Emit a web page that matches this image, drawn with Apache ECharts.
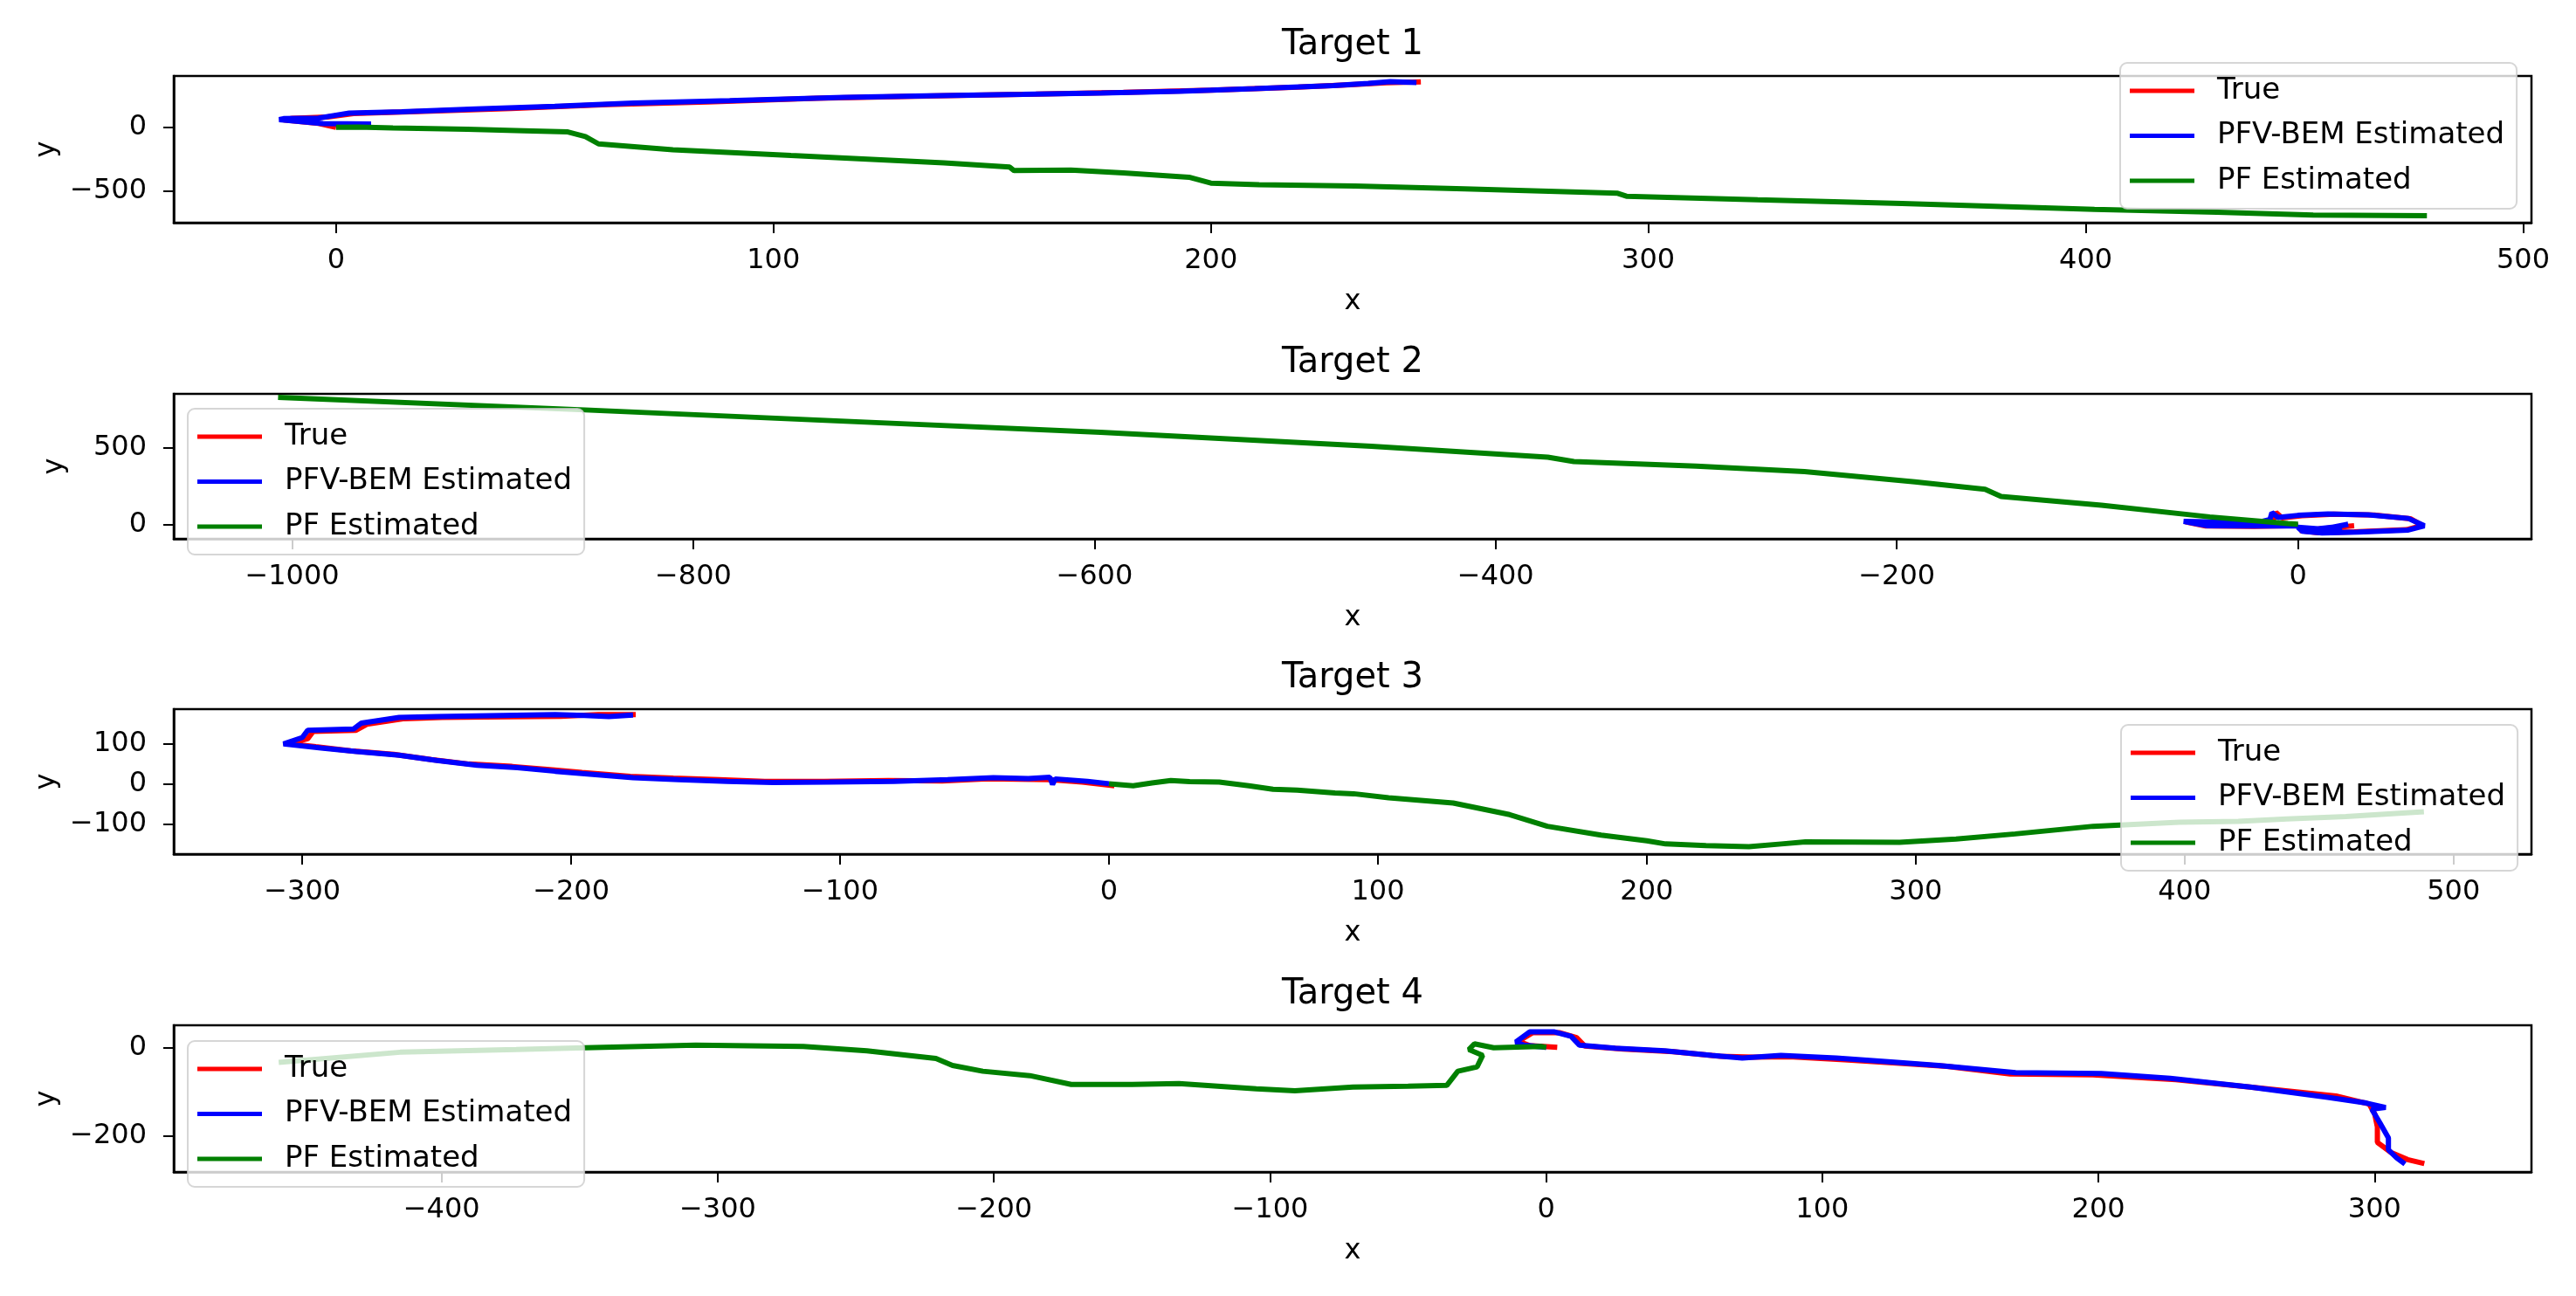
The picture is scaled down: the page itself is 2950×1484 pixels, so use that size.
<!DOCTYPE html>
<html>
<head>
<meta charset="utf-8">
<script src="https://cdn.jsdelivr.net/npm/echarts@6/dist/echarts.min.js"></script>
<style>html,body{margin:0;padding:0;background:#fff}#c{width:2950px;height:1484px}</style>
</head>
<body>
<div id="c"></div>
<script>
// ---------- data ----------
const panelTitles = ['Target 1', 'Target 2', 'Target 3', 'Target 4'];
const seriesNames = ['True', 'PFV-BEM Estimated', 'PF Estimated'];

// Target 1
const t1True = [[0,0],[-4,30],[-12,58],[-10,70],[-2,80],[4,108],[20,125],[40,148],[62,178],[85,200],[110,228],[140,250],[160,262],[180,275],[200,292],[220,316],[232,335],[240,350],[248,358]];
const t1PFV = [[0,5],[8,25],[-3,29],[-13,60],[-12,68],[-4,72],[0,95],[3,112],[15,122],[32,144],[50,165],[68,190],[90,210],[116,236],[135,248],[157,259],[175,270],[193,284],[210,305],[228,328],[236,345],[241,360],[247,352]];
const t1PF = [[0,0],[5,2],[13,-5],[30,-15],[43,-27],[53,-37],[57,-73],[60,-131],[77,-177],[104,-222],[139,-280],[154,-314],[155,-341],[168,-337],[180,-360],[195,-394],[200,-440],[211,-452],[233,-463],[258,-486],[293,-520],[295,-543],[325,-572],[358,-601],[402,-647],[430,-670],[452,-692],[478,-697]];
const t1XTicks = [0, 100, 200, 300, 400, 500];
const t1YTicks = [-500, 0];

// Target 2
const t2True = [[0,-8],[-22,-14],[-46,-12],[-56,15],[-38,12],[-18,10],[-12,35],[-11,78],[-8,42],[2,56],[18,66],[38,60],[56,36],[62,-8],[54,-36],[28,-50],[10,-55],[1,-42],[28,-10]];
const t2PFV = [[0,-10],[-20,-12],[-45,-10],[-57,18],[-40,15],[-20,12],[-14,30],[-13,76],[-10,45],[0,58],[15,67],[35,62],[55,38],[63,-10],[55,-38],[30,-52],[12,-57],[2,-45],[0,-20],[10,-30],[20,-15],[25,0],[15,-25],[5,-35],[22,-40]];
const t2PF = [[0,0],[-5,5],[-44,48],[-98,124],[-148,181],[-156,229],[-191,277],[-246,344],[-300,380],[-361,410],[-374,439],[-462,510],[-597,601],[-714,668],[-854,748],[-1007,830]];
const t2XTicks = [-1000, -800, -600, -400, -200, 0];
const t2YTicks = [0, 500];

// Target 3
const t3True = [[2,-5],[-10,4],[-22,10],[-45,12],[-62,7],[-82,8],[-106,6],[-128,6],[-145,10],[-162,14],[-178,18],[-196,28],[-208,35],[-222,43],[-238,49],[-252,60],[-266,73],[-282,82],[-295,92],[-305,100],[-298,112],[-296,130],[-280,133],[-276,148],[-262,162],[-248,165],[-232,166],[-204,168],[-190,172],[-176,172]];
const t3PFV = [[0,0],[-8,6],[-20,12],[-21,-2],[-22,16],[-30,13],[-43,15],[-60,10],[-80,6],[-104,4],[-125,3],[-142,6],[-160,10],[-177,15],[-195,25],[-206,31],[-220,40],[-235,46],[-250,58],[-264,71],[-280,80],[-293,89],[-307,99],[-300,115],[-298,133],[-281,136],[-278,151],[-264,165],[-250,167],[-235,169],[-206,172],[-195,170],[-186,167],[-177,171]];
const t3PF = [[0,0],[9,-5],[16,2],[23,8],[30,5],[41,4],[52,-5],[61,-14],[70,-16],[84,-23],[91,-25],[104,-35],[128,-48],[149,-77],[163,-106],[183,-128],[200,-142],[207,-150],[222,-154],[238,-157],[250,-150],[259,-145],[294,-146],[315,-138],[337,-125],[366,-106],[398,-96],[420,-94],[438,-88],[460,-82],[489,-70]];
const t3XTicks = [-300, -200, -100, 0, 100, 200, 300, 400, 500];
const t3YTicks = [-100, 0, 100];

// Target 4
const t4True = [[4,0],[-6,4],[-10,14],[-5,33],[5,33],[11,22],[14,3],[28,-4],[46,-10],[63,-20],[75,-22],[88,-21],[108,-28],[128,-36],[145,-43],[168,-60],[198,-62],[228,-73],[258,-92],[286,-110],[298,-128],[300,-150],[301,-180],[301,-215],[306,-238],[312,-254],[318,-263]];
const t4PFV = [[0,0],[-8,5],[-11,12],[-6,35],[3,35],[9,25],[12,5],[25,-2],[43,-8],[60,-18],[71,-24],[85,-18],[105,-24],[125,-33],[142,-41],[170,-57],[201,-59],[226,-70],[255,-90],[283,-113],[297,-126],[304,-136],[299,-140],[302,-172],[305,-205],[305,-232],[308,-250],[311,-264]];
const t4PF = [[0,0],[-2,2],[-19,-1],[-26,8],[-28,-5],[-23,-18],[-25,-44],[-32,-54],[-36,-86],[-50,-88],[-70,-90],[-91,-98],[-105,-94],[-133,-82],[-150,-84],[-172,-84],[-187,-64],[-204,-54],[-215,-41],[-221,-25],[-246,-8],[-269,2],[-308,5],[-348,-1],[-373,-5],[-415,-11],[-459,-34]];
const t4XTicks = [-400, -300, -200, -100, 0, 100, 200, 300];
const t4YTicks = [-200, 0];

// ---------- layout / styles ----------
const panelData = [[t1True, t1PFV, t1PF], [t2True, t2PFV, t2PF], [t3True, t3PFV, t3PF], [t4True, t4PFV, t4PF]];
const xTickSets = [t1XTicks, t2XTicks, t3XTicks, t4XTicks];
const yTickSets = [t1YTicks, t2YTicks, t3YTicks, t4YTicks];
const axisRanges = [
  {x: [-37.1, 501.9], y: [-752, 404]},
  {x: [-1059, 116.4], y: [-95.6, 853]},
  {x: [-347.8, 529], y: [-175.3, 185.7]},
  {x: [-497, 356.8], y: [-282, 50]}
];
const gridTops = [87, 451, 812, 1174];
const gridHeights = [168, 166, 166, 168];
const legendPos = [{left: 2428, top: 72}, {left: 215, top: 468}, {left: 2429, top: 830}, {left: 215, top: 1192}];
const colors = ['#ff0000', '#0000ff', '#008000'];
const FONT = 'DejaVu Sans';
const fmt = v => String(v).replace('-', '\u2212');

const grids = [], xAxes = [], yAxes = [], titles = [], legends = [], series = [];
for (let i = 0; i < 4; i++) {
  grids.push({left: 199, width: 2700, top: gridTops[i], height: gridHeights[i], show: true,
    borderColor: '#000', borderWidth: 2.5, backgroundColor: 'transparent', containLabel: false});
  xAxes.push({type: 'value', gridIndex: i, min: axisRanges[i].x[0], max: axisRanges[i].x[1],
    name: 'x', nameLocation: 'middle', nameGap: 75,
    nameTextStyle: {fontSize: 32, color: '#000', fontFamily: FONT, lineHeight: 32},
    axisLine: {show: true, onZero: false, lineStyle: {color: '#000', width: 2.5}},
    axisTick: {show: true, inside: false, length: 12, customValues: xTickSets[i], lineStyle: {color: '#000', width: 2}},
    axisLabel: {show: true, customValues: xTickSets[i], formatter: fmt, fontSize: 32, color: '#000', fontFamily: FONT, margin: 28, lineHeight: 32},
    splitLine: {show: false}});
  yAxes.push({type: 'value', gridIndex: i, min: axisRanges[i].y[0], max: axisRanges[i].y[1],
    name: 'y', nameLocation: 'middle', nameGap: 120, nameRotate: 90,
    nameTextStyle: {fontSize: 32, color: '#000', fontFamily: FONT, lineHeight: 32},
    axisLine: {show: true, onZero: false, lineStyle: {color: '#000', width: 2.5}},
    axisTick: {show: true, inside: false, length: 12, customValues: yTickSets[i], lineStyle: {color: '#000', width: 2}},
    axisLabel: {show: true, customValues: yTickSets[i], formatter: fmt, fontSize: 32, color: '#000', fontFamily: FONT, margin: 31},
    splitLine: {show: false}});
  titles.push({text: panelTitles[i], left: 1549, top: gridTops[i] - 55, textAlign: 'center',
    textStyle: {fontSize: 40, fontWeight: 'normal', color: '#000', fontFamily: FONT, lineHeight: 40}, padding: 0});
  legends.push({show: true, orient: 'vertical', left: legendPos[i].left, top: legendPos[i].top, z: 20,
    data: seriesNames, icon: 'rect', itemWidth: 74, itemHeight: 5, itemGap: 17.5,
    backgroundColor: 'rgba(255,255,255,0.8)', borderColor: 'rgba(204,204,204,0.8)', borderWidth: 2, borderRadius: 8,
    padding: [15, 14, 15, 11], selectedMode: false,
    textStyle: {fontSize: 34, color: '#000', fontFamily: FONT, lineHeight: 34, padding: [0, 0, 0, 21]}});
  for (let s = 0; s < 3; s++) {
    series.push({type: 'line', name: seriesNames[s], xAxisIndex: i, yAxisIndex: i, data: panelData[i][s],
      showSymbol: false, symbol: 'none', smooth: false, z: 2 + s,
      lineStyle: {color: colors[s], width: 6}, itemStyle: {color: colors[s]}});
  }
}

const chart = echarts.init(document.getElementById('c'), null, {renderer: 'canvas'});
chart.setOption({
  animation: false,
  backgroundColor: '#fff',
  textStyle: {fontFamily: FONT},
  title: titles, grid: grids, xAxis: xAxes, yAxis: yAxes, legend: legends, series: series
});
</script>
</body>
</html>
